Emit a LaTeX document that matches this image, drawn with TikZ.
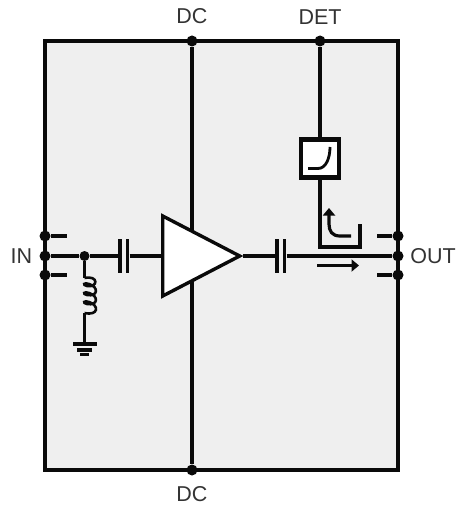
\documentclass[tikz,border=0pt]{standalone}
\usepackage{fontspec}
\setmainfont{Liberation Sans}
\usetikzlibrary{positioning,arrows.meta,shapes.geometric,calc}
\definecolor{panel}{HTML}{EFEFEF}
\definecolor{ink}{HTML}{0A0A0A}
\definecolor{labelgrey}{HTML}{333333}
\tikzset{
  housing/.style = {rectangle, draw=ink, fill=panel, line width=3.8pt, inner sep=0pt,
                    minimum width=353pt, minimum height=429pt},
  pad/.style     = {circle, fill=ink, inner sep=0pt, minimum size=11pt},
  wire/.style    = {draw=ink, line width=3.4pt},
  plate/.style   = {rectangle, fill=ink, inner sep=0pt, minimum width=3.8pt, minimum height=34pt},
  amp/.style     = {isosceles triangle, isosceles triangle apex angle=55, isosceles triangle stretches,
                    draw=ink, fill=white, line width=3.4pt, inner sep=0pt,
                    minimum width=80pt, minimum height=77pt},
  detbox/.style  = {rectangle, draw=ink, fill=white, line width=4.2pt, inner sep=0pt, minimum size=38pt},
  sense/.style   = {-{Triangle[length=7.5pt,width=12pt]}, draw=ink, line width=3.2pt},
  port/.style    = {font=\fontsize{21.5}{21.5}\selectfont, text=labelgrey, inner sep=0pt},
}
\begin{document}
\begin{tikzpicture}[x=1pt,y=-1pt]
  \useasboundingbox (0,0) rectangle (474,513);
  \node[housing] (frame) at (221.5,255.5) {};
  \node[pad] (dctop) at (192,41) {};
  \node[pad] (dettop) at (320,41) {};
  \node[pad] (dcbot) at (192,470) {};
  \node[pad] (inup) at (45,236) {};
  \node[pad] (in) at (45,256) {};
  \node[pad] (indn) at (45,275) {};
  \node[pad] (outup) at (398,236) {};
  \node[pad] (out) at (398,256) {};
  \node[pad] (outdn) at (398,275) {};
  \node[pad, minimum size=10pt] (shunt) at (84.5,256) {};
  \coordinate (inupend) at (67,236);
  \coordinate (indnend) at (67,275);
  \coordinate (outupend) at (377,236);
  \coordinate (outdnend) at (377,275);
  \draw[wire] (inup) -- (inupend);
  \draw[wire] (indn) -- (indnend);
  \draw[wire] (outup) -- (outupend);
  \draw[wire] (outdn) -- (outdnend);
  % bias line runs under the amplifier
  \draw[wire] (dctop) -- (dcbot);
  \node[amp, anchor=lower side] (gain) at (161,256) {};
  \node[plate] (cinl) at (120,256) {};
  \node[plate] (cinr) at (127.5,256) {};
  \node[plate] (coutl) at (277,256) {};
  \node[plate] (coutr) at (284.5,256) {};
  \draw[wire] (in) -- (shunt);
  \draw[wire] (shunt) -- (cinl);
  \draw[wire] (cinr) -- (gain.lower side);
  \draw[wire] (gain.apex) -- (coutl);
  \draw[wire] (coutr) -- (out);
  % detector and coupler
  \node[detbox] (det) at (320,158.5) {};
  \coordinate (cplcorner) at (320,247);
  \coordinate (cplturn) at (360,247);
  \coordinate (cplend) at (360,226);
  \draw[wire] (dettop) -- (det);
  \draw[wire, line cap=rect] (det) -- (cplcorner) -- (cplturn) -- (cplend);
  \draw[draw=ink, line width=2.8pt] (308,168.5) -- (318,168.5) .. controls (326,168.5) and (330,158) .. (330,147);
  \coordinate (sensefrom) at (351,236);
  \coordinate (senseto) at (329,208);
  \draw[sense] (sensefrom) -- (340,236) .. controls (332,236) and (329,231) .. (329,224) -- (senseto);
  \coordinate (flowfrom) at (317,265.5);
  \coordinate (flowto) at (359,265.5);
  \draw[sense] (flowfrom) -- (flowto);
  % shunt inductor to ground
  \coordinate (coiltop) at (84.5,278);
  \coordinate (coilbot) at (84.5,313);
  \coordinate (gnd) at (84.5,344);
  \draw[wire] (shunt) -- (coiltop);
  \draw[draw=ink, line width=2.6pt] (coiltop) .. controls (99,275) and (98,288) .. (87,286)
    .. controls (82,285) and (84,282) .. (89,284) .. controls (99,287) and (98,297) .. (87,295)
    .. controls (82,294) and (84,291) .. (89,293) .. controls (99,296) and (98,306) .. (87,304)
    .. controls (82,303) and (84,300) .. (89,302) .. controls (99,305) and (99,316) .. (coilbot);
  \draw[wire] (coilbot) -- (gnd);
  \node[rectangle, fill=ink, inner sep=0pt, minimum width=24pt, minimum height=3.4pt] (gnda) at (gnd) {};
  \node[rectangle, fill=ink, inner sep=0pt, minimum width=15pt, minimum height=3.4pt, below=2pt of gnda] (gndb) {};
  \node[rectangle, fill=ink, inner sep=0pt, minimum width=9pt, minimum height=3.4pt, below=1pt of gndb] (gndc) {};
  % port names
  \node[port, above=11pt of dctop] (dctoplabel) {DC};
  \node[port, above=11pt of dettop] (detlabel) {DET};
  \node[port, below=11pt of dcbot] (dcbotlabel) {DC};
  \node[port, left=7pt of in] (inlabel) {IN};
  \node[port, right=6.5pt of out] (outlabel) {OUT};
\end{tikzpicture}
\end{document}
